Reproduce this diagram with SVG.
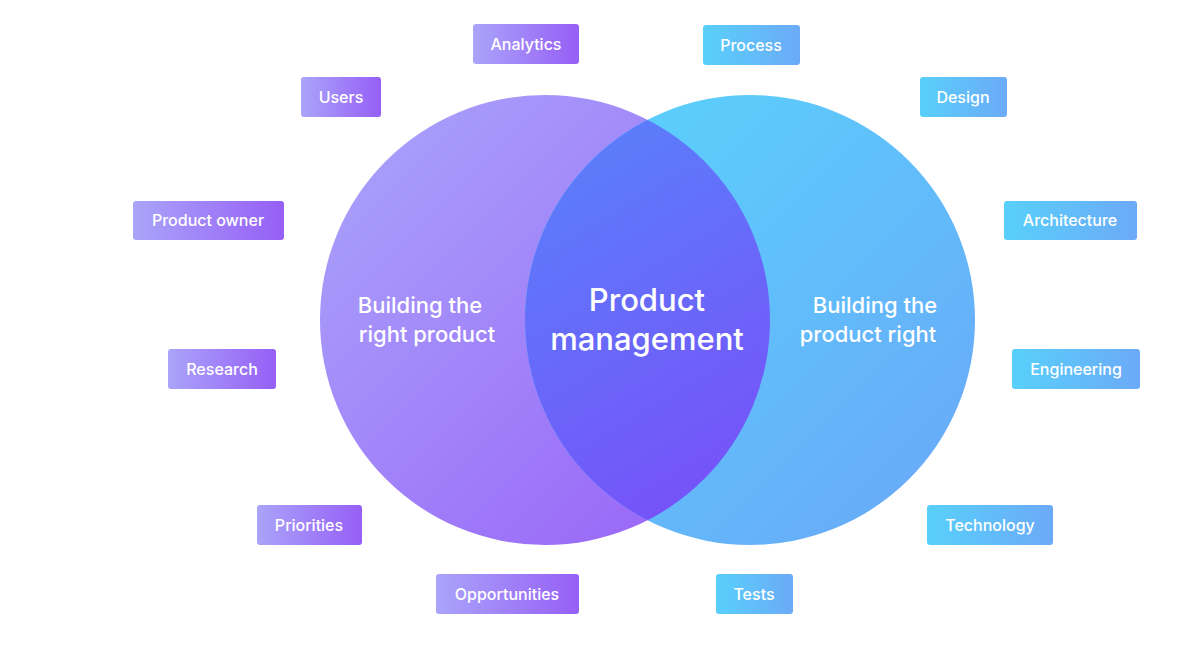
<svg xmlns="http://www.w3.org/2000/svg" width="1200" height="661" viewBox="0 0 1200 661">
<defs>
<linearGradient id="gl" x1="0" y1="0" x2="1" y2="1"><stop offset="0" stop-color="#AAA6FB"/><stop offset="1" stop-color="#985FF7"/></linearGradient>
<linearGradient id="gr" x1="0" y1="0" x2="1" y2="1"><stop offset="0" stop-color="#58D6FC"/><stop offset="1" stop-color="#6AA6F8"/></linearGradient>
<linearGradient id="gm" x1="0" y1="0" x2="0.6" y2="1"><stop offset="0" stop-color="#5586FB"/><stop offset="1" stop-color="#7D48F8"/></linearGradient>
<linearGradient id="bp" x1="0" y1="0" x2="1" y2="0"><stop offset="0" stop-color="#AAA4FA"/><stop offset="1" stop-color="#965FF6"/></linearGradient>
<linearGradient id="bb" x1="0" y1="0" x2="1" y2="0"><stop offset="0" stop-color="#58D0FB"/><stop offset="1" stop-color="#6CAAF7"/></linearGradient>
<clipPath id="cl"><circle cx="545" cy="320" r="225"/></clipPath>
</defs>
<style>
.t{font-family:Inter,"Noto Sans",sans-serif;font-size:16px;font-weight:500;fill:#fff;text-anchor:middle;dominant-baseline:central}
.c{font-family:Inter,"Noto Sans",sans-serif;font-size:22px;font-weight:500;fill:#fff;text-anchor:middle}
.m{font-family:Inter,"Noto Sans",sans-serif;font-size:31px;font-weight:500;fill:#fff;text-anchor:middle}
.p{fill:url(#bp)}.b{fill:url(#bb)}
</style>
<rect width="1200" height="661" fill="#fff"/>
<g id="left-circle"><circle cx="545" cy="320" r="225" fill="url(#gl)"/></g>
<g id="right-circle"><circle cx="750" cy="320" r="225" fill="url(#gr)"/></g>
<g id="overlap"><circle cx="750" cy="320" r="225" fill="url(#gm)" clip-path="url(#cl)"/></g>
<g id="labels">
<text class="c" x="420" y="313">Building the</text><text class="c" x="427" y="342">right product</text>
<text class="c" x="875" y="313">Building the</text><text class="c" x="868" y="342">product right</text>
<text class="m" x="647" y="311">Product</text><text class="m" x="647" y="350">management</text>
</g>
<g id="connectors"></g>
<g id="n-analytics"><rect class="p" x="473" y="24" width="106" height="40" rx="3"/><text class="t" x="526" y="44">Analytics</text></g>
<g id="n-process"><rect class="b" x="703" y="25" width="97" height="40" rx="3"/><text class="t" x="751" y="45">Process</text></g>
<g id="n-users"><rect class="p" x="301" y="77" width="80" height="40" rx="3"/><text class="t" x="341" y="97">Users</text></g>
<g id="n-design"><rect class="b" x="920" y="77" width="87" height="40" rx="3"/><text class="t" x="963" y="97">Design</text></g>
<g id="n-owner"><rect class="p" x="133" y="201" width="151" height="39" rx="3"/><text class="t" x="208" y="220">Product owner</text></g>
<g id="n-arch"><rect class="b" x="1004" y="201" width="133" height="39" rx="3"/><text class="t" x="1070" y="220">Architecture</text></g>
<g id="n-research"><rect class="p" x="168" y="349" width="108" height="40" rx="3"/><text class="t" x="222" y="369">Research</text></g>
<g id="n-eng"><rect class="b" x="1012" y="349" width="128" height="40" rx="3"/><text class="t" x="1076" y="369">Engineering</text></g>
<g id="n-priorities"><rect class="p" x="257" y="505" width="105" height="40" rx="3"/><text class="t" x="309" y="525">Priorities</text></g>
<g id="n-tech"><rect class="b" x="927" y="505" width="126" height="40" rx="3"/><text class="t" x="990" y="525">Technology</text></g>
<g id="n-opp"><rect class="p" x="436" y="574" width="143" height="40" rx="3"/><text class="t" x="507" y="594">Opportunities</text></g>
<g id="n-tests"><rect class="b" x="716" y="574" width="77" height="40" rx="3"/><text class="t" x="754" y="594">Tests</text></g>
</svg>
